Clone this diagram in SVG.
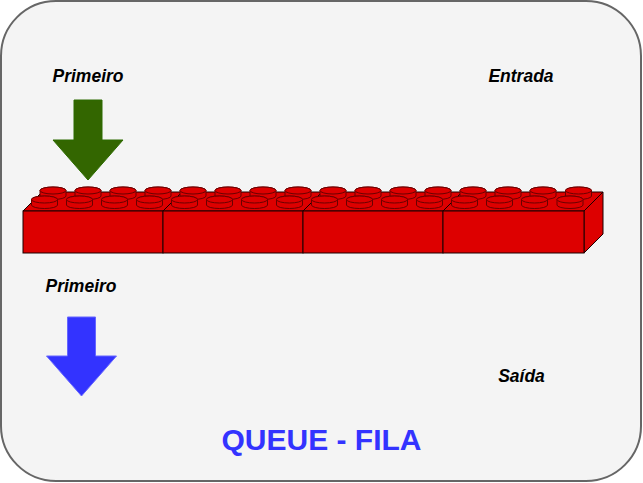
<svg xmlns="http://www.w3.org/2000/svg" xmlns:xlink="http://www.w3.org/1999/xlink" width="643" height="483" viewBox="0 0 643 483">
<style>
.lbl{font-family:"Liberation Sans",Arial,sans-serif;font-weight:bold;font-style:italic;font-size:17.5px;fill:#000;text-anchor:middle}
.title{font-family:"Liberation Sans",Arial,sans-serif;font-weight:bold;font-size:30px;fill:#3333ff;text-anchor:middle}
.brick{fill:#dd0000;stroke:#1a0000;stroke-width:1}
.stud{fill:#dd0000;stroke:#6a0000;stroke-width:1}
</style>
<defs>
<g id="stud">
<path class="stud" d="M-13,0 V5.5 A13,3.5 0 0 0 13,5.5 V0 A13,3.5 0 0 0 -13,0 Z"/>
<ellipse class="stud" cx="0" cy="0" rx="13" ry="3.5"/>
</g>
</defs>
<g id="frame">
<rect x="1" y="1" width="640" height="480" rx="55" ry="55" fill="#f4f4f4" stroke="#666666" stroke-width="2"/>
</g>
<g id="lego">
<path class="brick" d="M23,211 L42,192 L603,192 L584,211 Z"/>
<path class="brick" d="M584,211 L603,192 L603,234 L584,253 Z"/>
<path d="M163,211 L182,192 M303,211 L322,192 M443,211 L462,192" fill="none" stroke="#1a0000" stroke-width="1"/>
<g id="back-studs">
<use xlink:href="#stud" x="53" y="190.5"/><use xlink:href="#stud" x="88" y="190.5"/><use xlink:href="#stud" x="123" y="190.5"/><use xlink:href="#stud" x="158" y="190.5"/>
<use xlink:href="#stud" x="193" y="190.5"/><use xlink:href="#stud" x="228" y="190.5"/><use xlink:href="#stud" x="263" y="190.5"/><use xlink:href="#stud" x="298" y="190.5"/>
<use xlink:href="#stud" x="333" y="190.5"/><use xlink:href="#stud" x="368" y="190.5"/><use xlink:href="#stud" x="403" y="190.5"/><use xlink:href="#stud" x="438" y="190.5"/>
<use xlink:href="#stud" x="473" y="190.5"/><use xlink:href="#stud" x="508" y="190.5"/><use xlink:href="#stud" x="543" y="190.5"/><use xlink:href="#stud" x="578.5" y="190.5"/>
</g>
<g id="front-studs">
<use xlink:href="#stud" x="44.5" y="199.5"/><use xlink:href="#stud" x="79.5" y="199.5"/><use xlink:href="#stud" x="114.5" y="199.5"/><use xlink:href="#stud" x="149.5" y="199.5"/>
<use xlink:href="#stud" x="184.5" y="199.5"/><use xlink:href="#stud" x="219.5" y="199.5"/><use xlink:href="#stud" x="254.5" y="199.5"/><use xlink:href="#stud" x="289.5" y="199.5"/>
<use xlink:href="#stud" x="324.5" y="199.5"/><use xlink:href="#stud" x="359.5" y="199.5"/><use xlink:href="#stud" x="394.5" y="199.5"/><use xlink:href="#stud" x="429.5" y="199.5"/>
<use xlink:href="#stud" x="464.5" y="199.5"/><use xlink:href="#stud" x="499.5" y="199.5"/><use xlink:href="#stud" x="534.5" y="199.5"/><use xlink:href="#stud" x="570" y="199.5"/>
</g>
<rect class="brick" x="23" y="211" width="140" height="42"/>
<rect class="brick" x="163" y="211" width="140" height="42"/>
<rect class="brick" x="303" y="211" width="140" height="42"/>
<rect class="brick" x="443" y="211" width="141" height="42"/>
</g>
<g id="arrow-in">
<path d="M74,100 H102 V140 H123 L88,180 L53,140 H74 Z" fill="#336600" stroke="#2d6b00" stroke-width="1"/>
</g>
<g id="arrow-out">
<path d="M67.5,317 H95.5 V356 H116.5 L81.5,396 L46.5,356 H67.5 Z" fill="#3333ff" stroke="#6666ff" stroke-width="1"/>
</g>
<g id="label-primeiro-top"><text class="lbl" x="88" y="81.5">Primeiro</text></g>
<g id="label-entrada"><text class="lbl" x="521" y="81.5">Entrada</text></g>
<g id="label-primeiro-bottom"><text class="lbl" x="81" y="292">Primeiro</text></g>
<g id="label-saida"><text class="lbl" x="521.5" y="382">Saída</text></g>
<g id="label-title"><text class="title" x="321.5" y="450">QUEUE - FILA</text></g>
</svg>
